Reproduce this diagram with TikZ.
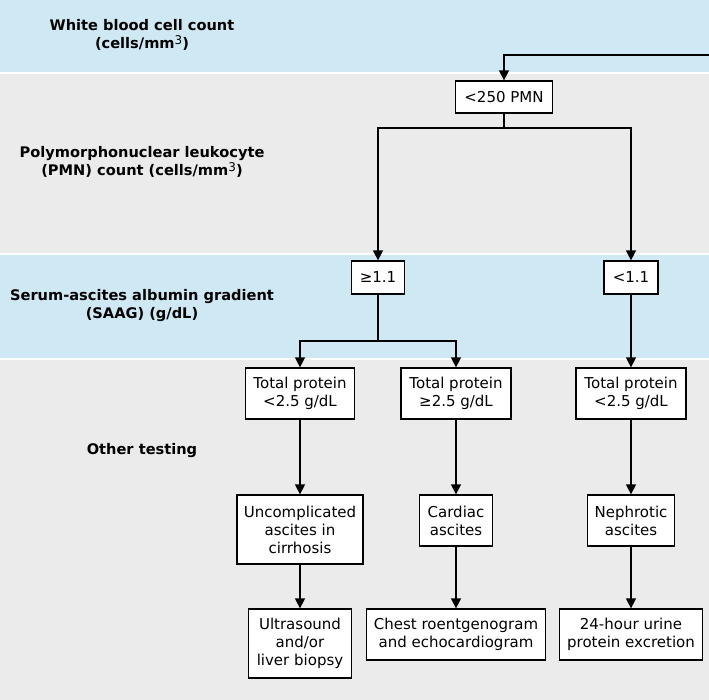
\documentclass[tikz,border=0pt]{standalone}
\usepackage{fontspec}
\setmainfont{DejaVu Sans}
\usetikzlibrary{arrows.meta}
\definecolor{bandblue}{RGB}{206,232,244}
\definecolor{bandgray}{RGB}{235,235,235}
\newcommand{\supthree}{\raisebox{0.45ex}{\mdseries\fontsize{12}{12}\selectfont 3}}
\begin{document}
\begin{tikzpicture}[x=1pt,y=-1pt,
  every node/.style={font=\fontsize{15}{18}\selectfont},
  bx/.style={draw=black,line width=1.3pt,fill=white,align=center,inner sep=0pt},
  lbl/.style={font=\fontsize{14.6}{18}\selectfont\bfseries,align=center},
  conn/.style={line width=1.5pt},
  arr/.style={line width=1.5pt,-{Triangle[width=10pt,length=10pt]}}]
\useasboundingbox (0,0) rectangle (709,700);
\fill[bandblue] (0,0) rectangle (709,72);
\fill[bandgray] (0,74) rectangle (709,253);
\fill[bandblue] (0,255) rectangle (709,358);
\fill[bandgray] (0,360) rectangle (709,700);
% labels
\node[lbl] (l1) at (142,35) {White blood cell count\\(cells/mm\supthree)};
\node[lbl] (l2) at (142,162) {Polymorphonuclear leukocyte\\(PMN) count (cells/mm\supthree)};
\node[lbl] (l3) at (142,306) {Serum-ascites albumin gradient\\(SAAG) (g/dL)};
\node[lbl] (l4) at (142,451) {Other testing};
% boxes
\node[bx,minimum width=97pt,minimum height=32pt] (pmn) at (504,97) {<250 PMN};
\node[bx,minimum width=53pt,minimum height=33pt] (ge) at (378,277.5) {≥1.1};
\node[bx,minimum width=54pt,minimum height=33pt] (lt) at (631,277.5) {<1.1};
\node[bx,minimum width=109pt,minimum height=51pt] (tp1) at (300,393.5) {Total protein\\<2.5 g/dL};
\node[bx,minimum width=110pt,minimum height=51pt] (tp2) at (456,393.5) {Total protein\\≥2.5 g/dL};
\node[bx,minimum width=110pt,minimum height=51pt] (tp3) at (631,393.5) {Total protein\\<2.5 g/dL};
\node[bx,minimum width=126pt,minimum height=69pt] (unc) at (300,529.5) {Uncomplicated\\ascites in\\cirrhosis};
\node[bx,minimum width=73pt,minimum height=51pt] (card) at (456,520.5) {Cardiac\\ascites};
\node[bx,minimum width=87pt,minimum height=51pt] (neph) at (631,520.5) {Nephrotic\\ascites};
\node[bx,minimum width=103pt,minimum height=69pt] (us) at (300,643.5) {Ultrasound\\and/or\\liver biopsy};
\node[bx,minimum width=179pt,minimum height=51pt] (chest) at (456,634.5) {Chest roentgenogram\\and echocardiogram};
\node[bx,minimum width=143pt,minimum height=51pt] (urine) at (631,634.5) {24-hour urine\\protein excretion};
% connectors
\coordinate (in) at (709,55);
\coordinate (j1) at (504,128);
\coordinate (j2) at (378,341);
\draw[arr] (in) -| (pmn.north);
\draw[conn] (pmn.south) -- (j1);
\draw[arr] (j1) -| (ge.north);
\draw[arr] (j1) -| (lt.north);
\draw[conn] (ge.south) -- (j2);
\draw[arr] (j2) -| (tp1.north);
\draw[arr] (j2) -| (tp2.north);
\draw[arr] (lt.south) -- (tp3.north);
\draw[arr] (tp1.south) -- (unc.north);
\draw[arr] (tp2.south) -- (card.north);
\draw[arr] (tp3.south) -- (neph.north);
\draw[arr] (unc.south) -- (us.north);
\draw[arr] (card.south) -- (chest.north);
\draw[arr] (neph.south) -- (urine.north);
\end{tikzpicture}
\end{document}
